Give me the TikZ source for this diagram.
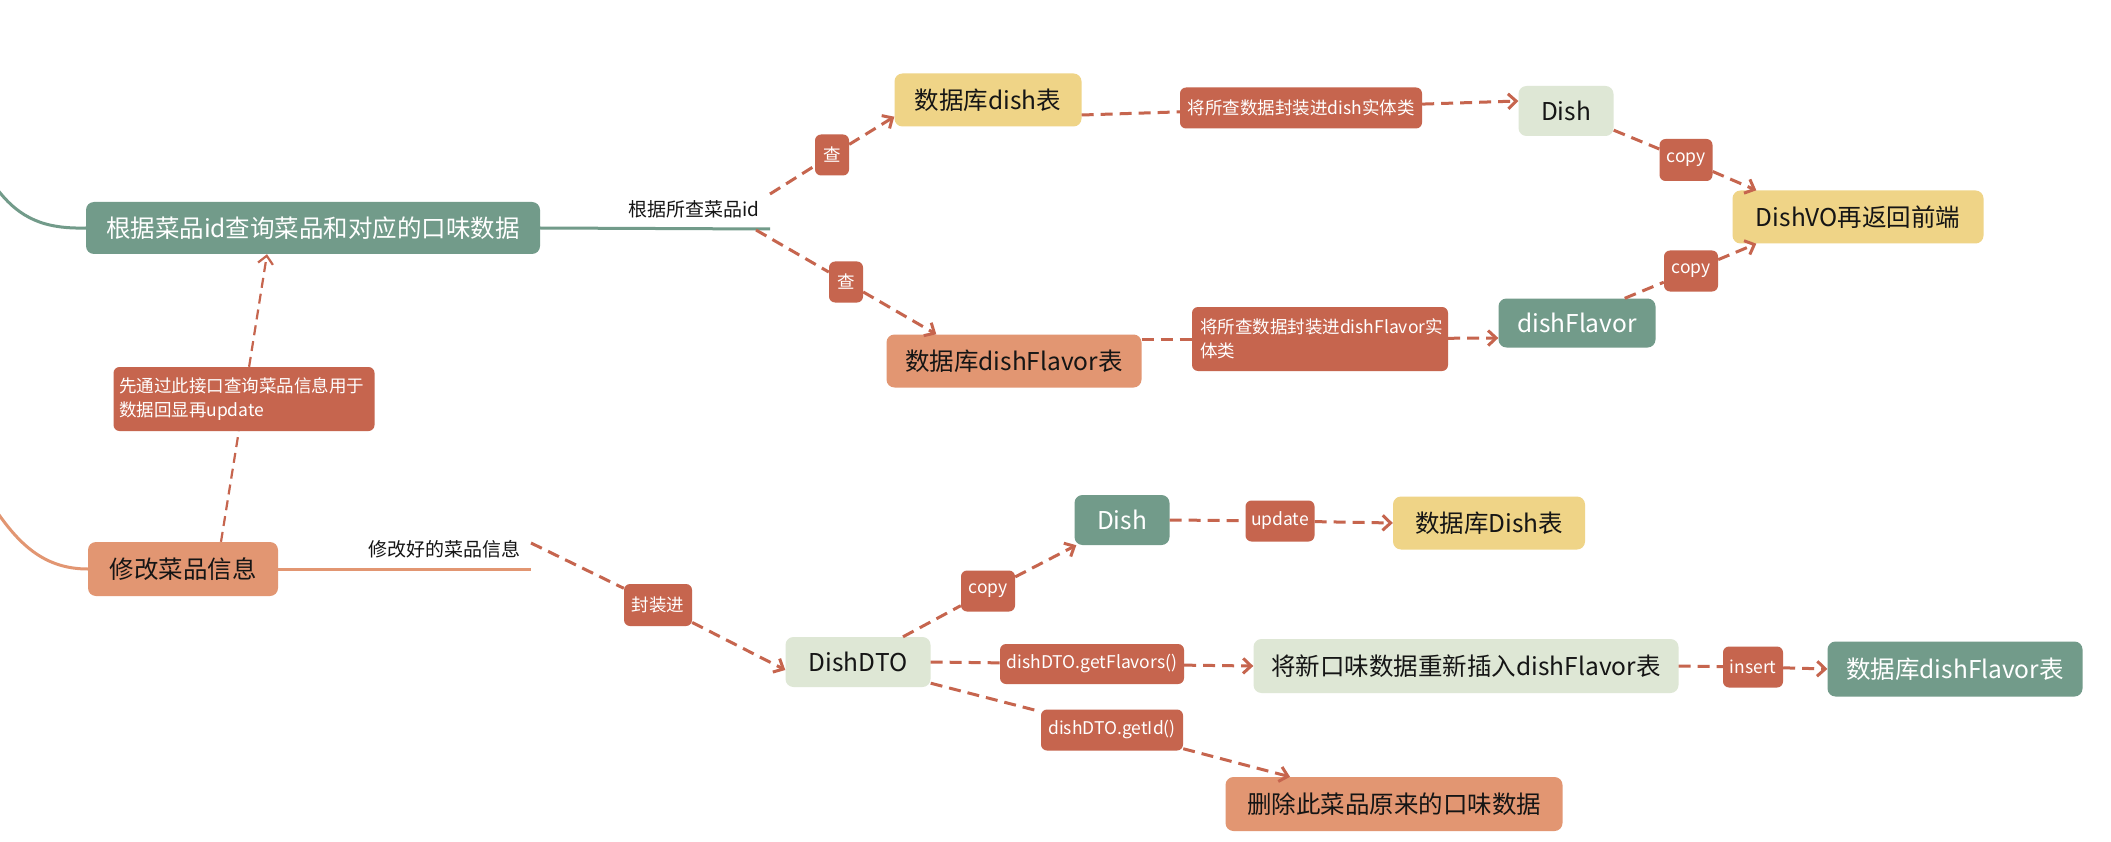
\documentclass[tikz,border=0pt]{standalone}
\usepackage{fontspec}
\setmainfont{Noto Sans CJK SC}
\usetikzlibrary{arrows.meta}
\definecolor{cteal}{HTML}{729B8A}
\definecolor{cyel}{HTML}{EFD487}
\definecolor{csal}{HTML}{E29672}
\definecolor{cgrn}{HTML}{DEE7D5}
\definecolor{clab}{HTML}{C6654E}
\definecolor{ctxt}{HTML}{151515}
\newcommand{\mainfs}{\fontsize{24.5}{29}\selectfont}
\newcommand{\labfs}{\fontsize{17.5}{24}\selectfont}
\newcommand{\freefs}{\fontsize{19}{23}\selectfont}
\tikzset{
  boxbase/.style={rounded corners=8pt, inner sep=0pt, font=\mainfs, align=center},
  tealbox/.style={boxbase, fill=cteal, text=white},
  yelbox/.style={boxbase, fill=cyel, text=ctxt},
  salbox/.style={boxbase, fill=csal, text=ctxt},
  grnbox/.style={boxbase, fill=cgrn, text=ctxt},
  labbox/.style={rounded corners=6pt, fill=clab, text=white, font=\labfs, inner sep=0pt, align=center},
  freetext/.style={font=\freefs, text=ctxt, inner sep=0pt},
  dline/.style={draw=clab, line width=3pt, dash pattern=on 12pt off 7pt},
  thinline/.style={draw=clab, line width=2.2pt, dash pattern=on 10pt off 6pt},
  tipped/.style={-{Straight Barb[length=8pt,width=15pt]}},
  branch/.style={line width=3pt}
}
\begin{document}
\begin{tikzpicture}[x=1pt,y=-1pt]
\fill[white] (0,0) rectangle (2111,842);
\useasboundingbox (0,0) rectangle (2111,842);

% main nodes
\node[tealbox, minimum width=454pt, minimum height=52pt] (A) at (313,228) {根据菜品id查询菜品和对应的口味数据};
\node[yelbox, minimum width=187pt, minimum height=53pt] (B) at (988,100) {数据库dish表};
\node[salbox, minimum width=255pt, minimum height=53pt] (C) at (1014,361) {数据库dishFlavor表};
\node[grnbox, minimum width=95pt, minimum height=50pt] (D) at (1566,111) {Dish};
\node[yelbox, minimum width=251pt, minimum height=53pt] (E) at (1858,217) {DishVO再返回前端};
\node[tealbox, minimum width=157pt, minimum height=49pt] (F) at (1577,323) {dishFlavor};
\node[salbox, minimum width=190pt, minimum height=54pt] (G) at (183,569) {修改菜品信息};
\node[grnbox, minimum width=145pt, minimum height=50pt] (H) at (858,662) {DishDTO};
\node[tealbox, minimum width=95pt, minimum height=50pt] (I) at (1122,520) {Dish};
\node[yelbox, minimum width=192pt, minimum height=53pt] (J) at (1489,523) {数据库Dish表};
\node[grnbox, minimum width=425pt, minimum height=54pt] (K) at (1466,666) {将新口味数据重新插入dishFlavor表};
\node[tealbox, minimum width=255pt, minimum height=55pt] (L) at (1955,669) {数据库dishFlavor表};
\node[salbox, minimum width=337pt, minimum height=54pt] (M) at (1394,804) {删除此菜品原来的口味数据};

% labels
\node[labbox, minimum width=34pt, minimum height=41pt] (l1) at (832,155) {查};
\node[labbox, minimum width=34pt, minimum height=41pt] (l2) at (846,282) {查};
\node[labbox, minimum width=242pt, minimum height=41pt] (l3) at (1301,108) {将所查数据封装进dish实体类};
\node[labbox, text width=240pt, inner xsep=8pt, minimum height=64pt, align=left] (l4) at (1320,339) {将所查数据封装进dishFlavor实\\体类};
\node[labbox, minimum width=53pt, minimum height=42pt] (l5) at (1686,160) {copy};
\node[labbox, minimum width=54pt, minimum height=41pt] (l6) at (1691,271) {copy};
\node[labbox, text width=250pt, inner xsep=5.5pt, minimum height=64pt, align=left] (l7) at (244,399) {先通过此接口查询菜品信息用于\\数据回显再update};
\node[labbox, minimum width=68pt, minimum height=42pt] (l8) at (658,605) {封装进};
\node[labbox, minimum width=54pt, minimum height=41pt] (l9) at (988,591) {copy};
\node[labbox, minimum width=69pt, minimum height=41pt] (l10) at (1280,521) {update};
\node[labbox, minimum width=184pt, minimum height=40pt] (l11) at (1092,664) {dishDTO.getFlavors()};
\node[labbox, minimum width=60pt, minimum height=41pt] (l12) at (1753,667) {insert};
\node[labbox, minimum width=142pt, minimum height=41pt] (l13) at (1112,730) {dishDTO.getId()};

% free texts
\node[freetext] (t1) at (694,209) {根据所查菜品id};
\node[freetext] (t2) at (444,549) {修改好的菜品信息};

% branch lines
\coordinate (c0) at (-3,189);
\coordinate (c1) at (770,229);
\coordinate (d0) at (-3,512);
\coordinate (d1) at (531,569);
\draw[branch, cteal] (c0) .. controls (20,219) and (45,229) .. (A.west);
\draw[branch, cteal] (A.east) -- (c1);
\draw[branch, csal] (d0) .. controls (20,545) and (45,569) .. (G.west);
\draw[branch, csal] (G.east) -- (d1);

% dashed connectors
\coordinate (s1) at (770,194);
\coordinate (s2) at (756,230);
\coordinate (s8) at (531,543);
\draw[dline] (s1) -- (l1);
\draw[dline, tipped] (l1) -- ([yshift=10pt]B.south west);
\draw[dline] (s2) -- (l2);
\draw[dline, tipped] (l2) -- ([xshift=50pt]C.north west);
\draw[dline] ([yshift=-15pt]B.east) -- (l3);
\draw[dline, tipped] (l3) -- ([yshift=10pt]D.west);
\draw[dline] ([yshift=22pt]C.east) -- (l4);
\draw[dline, tipped] (l4) -- ([yshift=-15pt]F.west);
\draw[dline] ([yshift=6pt]D.south east) -- (l5);
\draw[dline, tipped] (l5) -- ([xshift=24pt]E.north west);
\draw[dline] ([xshift=-31pt]F.north east) -- (l6);
\draw[dline, tipped] (l6) -- ([xshift=24pt]E.south west);
\draw[thinline] ([xshift=38pt]G.north) -- (l7);
\draw[thinline, tipped] (l7) -- ([xshift=-46pt]A.south);
\draw[dline] (s8) -- (l8);
\draw[dline, tipped] (l8) -- ([yshift=-8pt]H.west);
\draw[dline] ([xshift=45pt]H.north) -- (l9);
\draw[dline, tipped] (l9) -- ([xshift=2pt]I.south west);
\draw[dline] (I.east) -- (l10);
\draw[dline, tipped] (l10) -- (J.west);
\draw[dline] (H.east) -- (l11);
\draw[dline, tipped] (l11) -- (K.west);
\draw[dline] (K.east) -- (l12);
\draw[dline, tipped] (l12) -- (L.west);
\draw[dline] ([yshift=4pt]H.south east) -- (l13);
\draw[dline, tipped] (l13) -- ([xshift=-104pt]M.north);
\end{tikzpicture}
\end{document}
